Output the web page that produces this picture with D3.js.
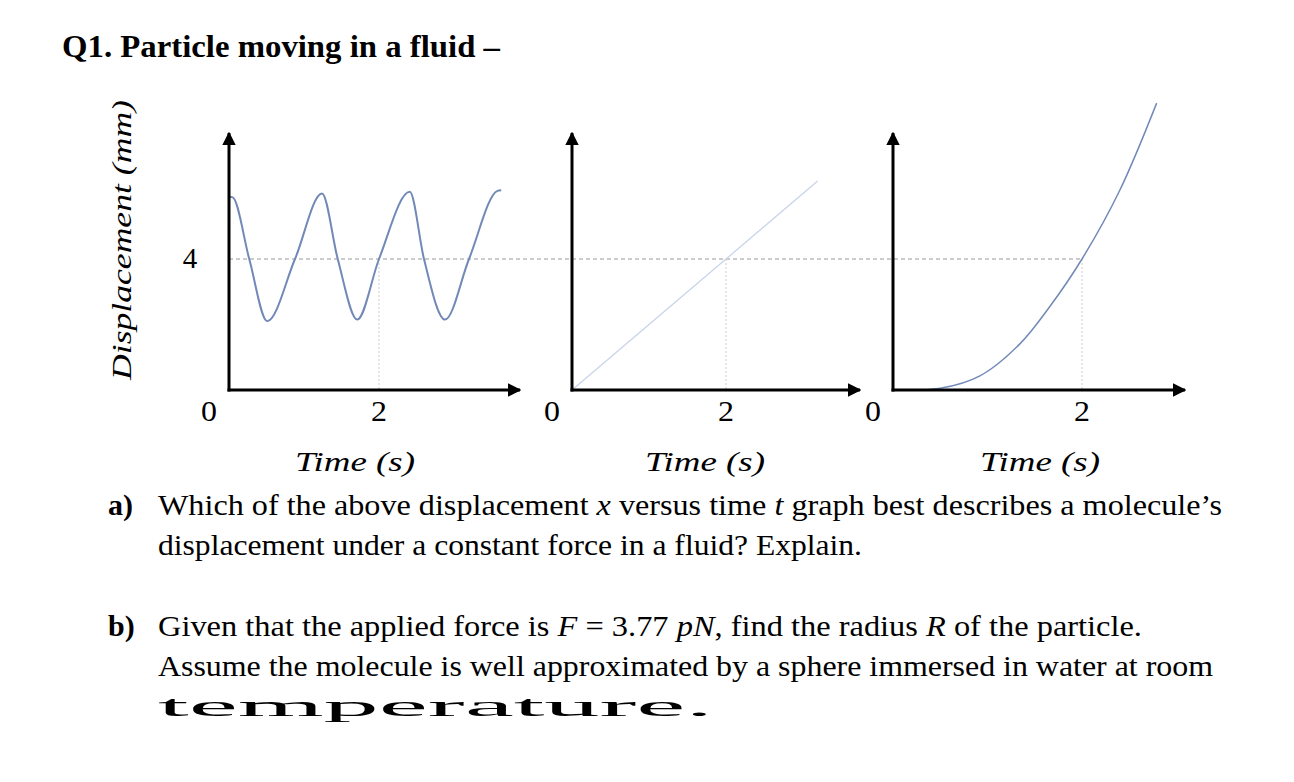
<!DOCTYPE html>
<html><head><meta charset="utf-8">
<script src="https://cdn.jsdelivr.net/npm/d3@7"></script>
<style>body{margin:0;background:#fff}svg{display:block}</style></head>
<body><svg id="c" width="1294" height="782"></svg>
<script>
const titleText = "Q1. Particle moving in a fluid \u2013";
const yLabel = "Displacement (mm)";
const xLabel = "Time (s)";
const xTicks = [0, 2];
const yTicks = [4];
const refPoint = {t: 2, x: 4};
// oscillating panel
const oscT = [0,0.05,0.27,0.51,0.88,1.24,1.45,1.71,2.0,2.41,2.6,2.88,3.2,3.58,3.63];
const oscX = [5.9,5.88,4.0,2.1,4.0,6.0,4.0,2.15,4.0,6.05,4.0,2.15,4.0,6.08,6.1];
// linear panel
const linT = [0, 3.19];
const linX = [0, 6.38];
// accelerating panel
const accT = [0,0.5,0.92,1.34,1.66,2.0,2.4,2.79];
const accX = [0,0.05,0.43,1.4,2.55,4.0,6.1,8.76];

const svg = d3.select("#c");
const serif = "'Liberation Serif','DejaVu Serif',serif";
const y = d3.scaleLinear().domain([0,4]).range([390,259]);
const panels = [
  {x0:229, pxs:75, xEnd:520, T:oscT, X:oscX, col:"#7289b8", w:2, curve:d3.curveMonotoneX, lab:355},
  {x0:572, pxs:77, xEnd:860, T:linT, X:linX, col:"#c9d4ea", w:1.3, curve:d3.curveLinear, lab:705},
  {x0:893, pxs:94.5, xEnd:1185, T:accT, X:accX, col:"#7289b8", w:1.5, curve:d3.curveCatmullRom, lab:1040}
];
svg.append("defs").append("marker").attr("id","ar").attr("viewBox","0 0 10 10")
  .attr("refX",9).attr("refY",5).attr("markerWidth",4.5).attr("markerHeight",4.5)
  .attr("markerUnits","strokeWidth").attr("orient","auto")
  .append("path").attr("d","M0,0L10,5L0,10Z").attr("fill","#000");

svg.append("text").attr("x",62).attr("y",57).attr("font-family",serif).attr("font-weight","bold")
  .attr("font-size",31).attr("textLength",438).attr("lengthAdjust","spacingAndGlyphs").text(titleText);
svg.append("text").attr("transform","translate(131,240) rotate(-90)").attr("text-anchor","middle")
  .attr("font-family",serif).attr("font-style","italic").attr("font-size",27)
  .attr("textLength",280).attr("lengthAdjust","spacingAndGlyphs").text(yLabel);

const lastX = d3.scaleLinear().domain([0,1]).range([panels[2].x0, panels[2].x0+panels[2].pxs]);
svg.append("line").attr("x1",panels[0].x0).attr("x2",lastX(refPoint.t)).attr("y1",y(refPoint.x)).attr("y2",y(refPoint.x))
  .attr("stroke","#999").attr("stroke-width",1).attr("stroke-dasharray","4,3");

panels.forEach((p,i)=>{
  const x = d3.scaleLinear().domain([0,1]).range([p.x0, p.x0+p.pxs]);
  svg.append("line").attr("x1",x(refPoint.t)).attr("x2",x(refPoint.t)).attr("y1",y(refPoint.x)).attr("y2",y(0))
    .attr("stroke","#ccc").attr("stroke-width",1).attr("stroke-dasharray","2,2");
  const line = d3.line().x(d=>x(d[0])).y(d=>y(d[1])).curve(p.curve);
  svg.append("path").attr("d",line(p.T.map((t,k)=>[t,p.X[k]]))).attr("fill","none")
    .attr("stroke",p.col).attr("stroke-width",p.w);
  svg.append("line").attr("x1",x(0)).attr("x2",x(0)).attr("y1",y(0)+1.5).attr("y2",133)
    .attr("stroke","#000").attr("stroke-width",3).attr("marker-end","url(#ar)");
  svg.append("line").attr("x1",x(0)-1.5).attr("x2",p.xEnd).attr("y1",y(0)).attr("y2",y(0))
    .attr("stroke","#000").attr("stroke-width",3).attr("marker-end","url(#ar)");
  xTicks.forEach(t=>{
    svg.append("text").attr("x", t===0 ? x(0)-20 : x(t)).attr("y",421).attr("text-anchor","middle")
      .attr("font-family",serif).attr("font-size",29).attr("transform",`translate(${t===0?x(0)-20:x(t)},0) scale(1.1,1) translate(${-(t===0?x(0)-20:x(t))},0)`).text(t);
  });
  svg.append("text").attr("x",p.lab).attr("y",471).attr("text-anchor","middle")
    .attr("font-family",serif).attr("font-style","italic").attr("font-size",28)
    .attr("textLength",120).attr("lengthAdjust","spacingAndGlyphs").text(xLabel);
});
yTicks.forEach(v=>svg.append("text").attr("x",190).attr("y",y(v)+9).attr("text-anchor","middle")
  .attr("font-family",serif).attr("font-size",29).text(v));

const qs = [
  {lab:"a)", y:515, lens:[1064,704], lines:[["Which of the above displacement ",["x"]," versus time ",["t"]," graph best describes a molecule\u2019s"],["displacement under a constant force in a fluid? Explain."]]},
  {lab:"b)", y:636, lens:[984,1055,555], lines:[["Given that the applied force is ",["F"]," = 3.77 ",["pN"],", find the radius ",["R"]," of the particle."],["Assume the molecule is well approximated by a sphere immersed in water at room"],["temperature."]]}
];
qs.forEach(q=>{
  svg.append("text").attr("x",108).attr("y",q.y).attr("font-family",serif).attr("font-weight","bold")
    .attr("font-size",30).text(q.lab);
  q.lines.forEach((ln,li)=>{
    const t = svg.append("text").attr("x",158).attr("y",q.y+li*40).attr("font-family",serif).attr("font-size",30)
      .attr("textLength",q.lens[li]).attr("lengthAdjust","spacingAndGlyphs");
    ln.forEach(seg=>{
      if (Array.isArray(seg)) t.append("tspan").attr("font-style","italic").text(seg[0]);
      else t.append("tspan").text(seg);
    });
  });
});
</script></body></html>
